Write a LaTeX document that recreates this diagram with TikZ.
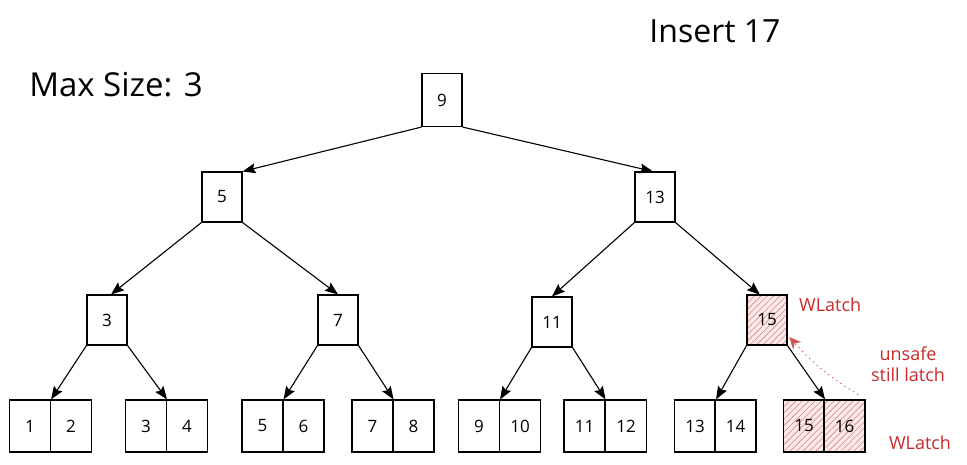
\documentclass[tikz,border=0pt]{standalone}
\usepackage{fontspec}
\setmainfont{Open Sans}
\usetikzlibrary{arrows.meta,patterns.meta,calc}
\definecolor{exred}{HTML}{C92A2A}
\begin{document}
\begin{tikzpicture}[x=1pt,y=-1pt,
  box/.style={draw, line width=1.1pt, minimum width=40pt, minimum height=50pt, inner sep=0pt, font=\fontsize{17}{19}\selectfont},
  leafbox/.style={box, minimum width=41pt, minimum height=52pt},
  hot/.style={preaction={fill=exred!10}, pattern={Lines[angle=45,distance=4.5pt,line width=0.6pt]}, pattern color=exred!60},
  edge/.style={-{Stealth[length=13pt,width=10pt,inset=2pt]}, line width=1.1pt},
  redlbl/.style={text=exred, font=\fontsize{18}{21}\selectfont, inner sep=0pt},
  title/.style={font=\fontsize{33}{36}\selectfont, inner sep=0pt}]
\useasboundingbox (0,0) rectangle (967,465);

% titles
\node[title] (maxsize) at (116,85) {Max Size: 3};
\node[title, font=\fontsize{32}{35}\selectfont] (insert) at (715,31) {Insert 17};

% inner nodes
\node[box, minimum height=53pt] (n9) at (442,100) {9};
\node[box] (n5) at (222,197) {5};
\node[box] (n13) at (655,197) {13};
\node[box] (n3) at (107,320) {3};
\node[box] (n7) at (338,320) {7};
\node[box] (n11) at (552,322) {11};
\node[box, hot] (n15) at (767,320) {15};

% leaves
\node[leafbox] (l1) at (30,426) {1};
\node[leafbox] (l2) at (71,426) {2};
\node[leafbox] (l3) at (146,426) {3};
\node[leafbox] (l4) at (187,426) {4};
\node[leafbox] (l5) at (262.5,426) {5};
\node[leafbox] (l6) at (303.5,426) {6};
\node[leafbox] (l7) at (372.5,426) {7};
\node[leafbox] (l8) at (413.5,426) {8};
\node[leafbox] (l9) at (479,426) {9};
\node[leafbox] (l10) at (520,426) {10};
\node[leafbox] (l11) at (584.5,426) {11};
\node[leafbox] (l12) at (626,426) {12};
\node[leafbox] (l13) at (695,426) {13};
\node[leafbox] (l14) at (735.5,426) {14};
\node[leafbox, hot] (l15) at (804,426) {15};
\node[leafbox, hot] (l16) at (844.5,426) {16};

% edges
\draw[edge] (n9.south west) -- (n5.north east);
\draw[edge] (n9.south east) -- ($(n13.north)+(-2,0)$);
\draw[edge] (n5.south west) -- ($(n3.north)+(4,0)$);
\draw[edge] (n5.south east) -- (n7.north);
\draw[edge] (n13.south west) -- (n11.north);
\draw[edge] (n13.south east) -- ($(n15.north)+(-7,0)$);
\draw[edge] (n3.south west) -- (l1.north east);
\draw[edge] (n3.south east) -- (l3.north east);
\draw[edge] (n7.south west) -- (l5.north east);
\draw[edge] (n7.south east) -- (l7.north east);
\draw[edge] (n11.south west) -- (l9.north east);
\draw[edge] (n11.south east) -- (l11.north east);
\draw[edge] (n15.south west) -- (l13.north east);
\draw[edge] (n15.south east) -- (l15.north east);

% red annotations
\node[redlbl, anchor=west] (wl1) at (799,305) {WLatch};
\node[redlbl, align=center] (unsafe) at (908,364) {unsafe\\still latch};
\node[redlbl] (wl2) at (920,443) {WLatch};
\coordinate (dstart) at ($(l16.north east)+(-8,-5)$);
\draw[exred!80, line width=1.5pt, line cap=round, dash pattern=on 0pt off 5pt, -{Stealth[length=12pt,width=11pt]}] (dstart) to[bend left=8] ($(n15.east)+(2,17)$);
\end{tikzpicture}
\end{document}
